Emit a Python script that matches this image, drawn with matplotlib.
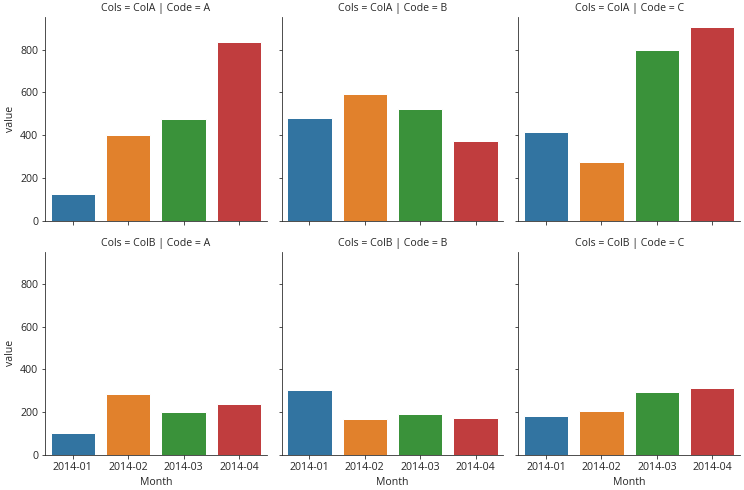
import pandas as pd
import seaborn as sns
import matplotlib.pyplot as plt

months = ["2014-01", "2014-02", "2014-03", "2014-04"]
codes = ["A", "B", "C"]
cols = ["ColA", "ColB"]

cola_a = [126, 402, 477, 837]
cola_b = [481, 593, 523, 370]
cola_c = [415, 276, 798, 906]
colb_a = [103, 285, 201, 239]
colb_b = [304, 169, 192, 173]
colb_c = [182, 206, 294, 312]

values = {
    ("ColA", "A"): cola_a, ("ColA", "B"): cola_b, ("ColA", "C"): cola_c,
    ("ColB", "A"): colb_a, ("ColB", "B"): colb_b, ("ColB", "C"): colb_c,
}

rows = []
for (c, code), vals in values.items():
    for m, v in zip(months, vals):
        rows.append({"Cols": c, "Code": code, "Month": m, "value": v})
df = pd.DataFrame(rows)

sns.set_style("ticks")
plt.rcParams["font.family"] = ["Open Sans", "DejaVu Sans"]
plt.rcParams["font.size"] = 10.5

palette = sns.color_palette("tab10", 4)

g = sns.catplot(
    data=df, x="Month", y="value", hue="Month", row="Cols", col="Code",
    kind="bar", order=months, hue_order=months, palette=palette,
    legend=False, errorbar=None, height=3.4, aspect=1,
)
g.set_titles("Cols = {row_name} | Code = {col_name}", size=10.5)
g.set_axis_labels("Month", "value")
for ax in g.axes.flat:
    ax.tick_params(labelsize=10.5)

fig = g.figure
fig.set_size_inches(744 / 72, 490 / 72)
fig.subplots_adjust(left=0.0605, right=0.9946, top=0.965, bottom=0.0714,
                    wspace=0.068, hspace=0.152)
fig.savefig("out.png", dpi=72)
